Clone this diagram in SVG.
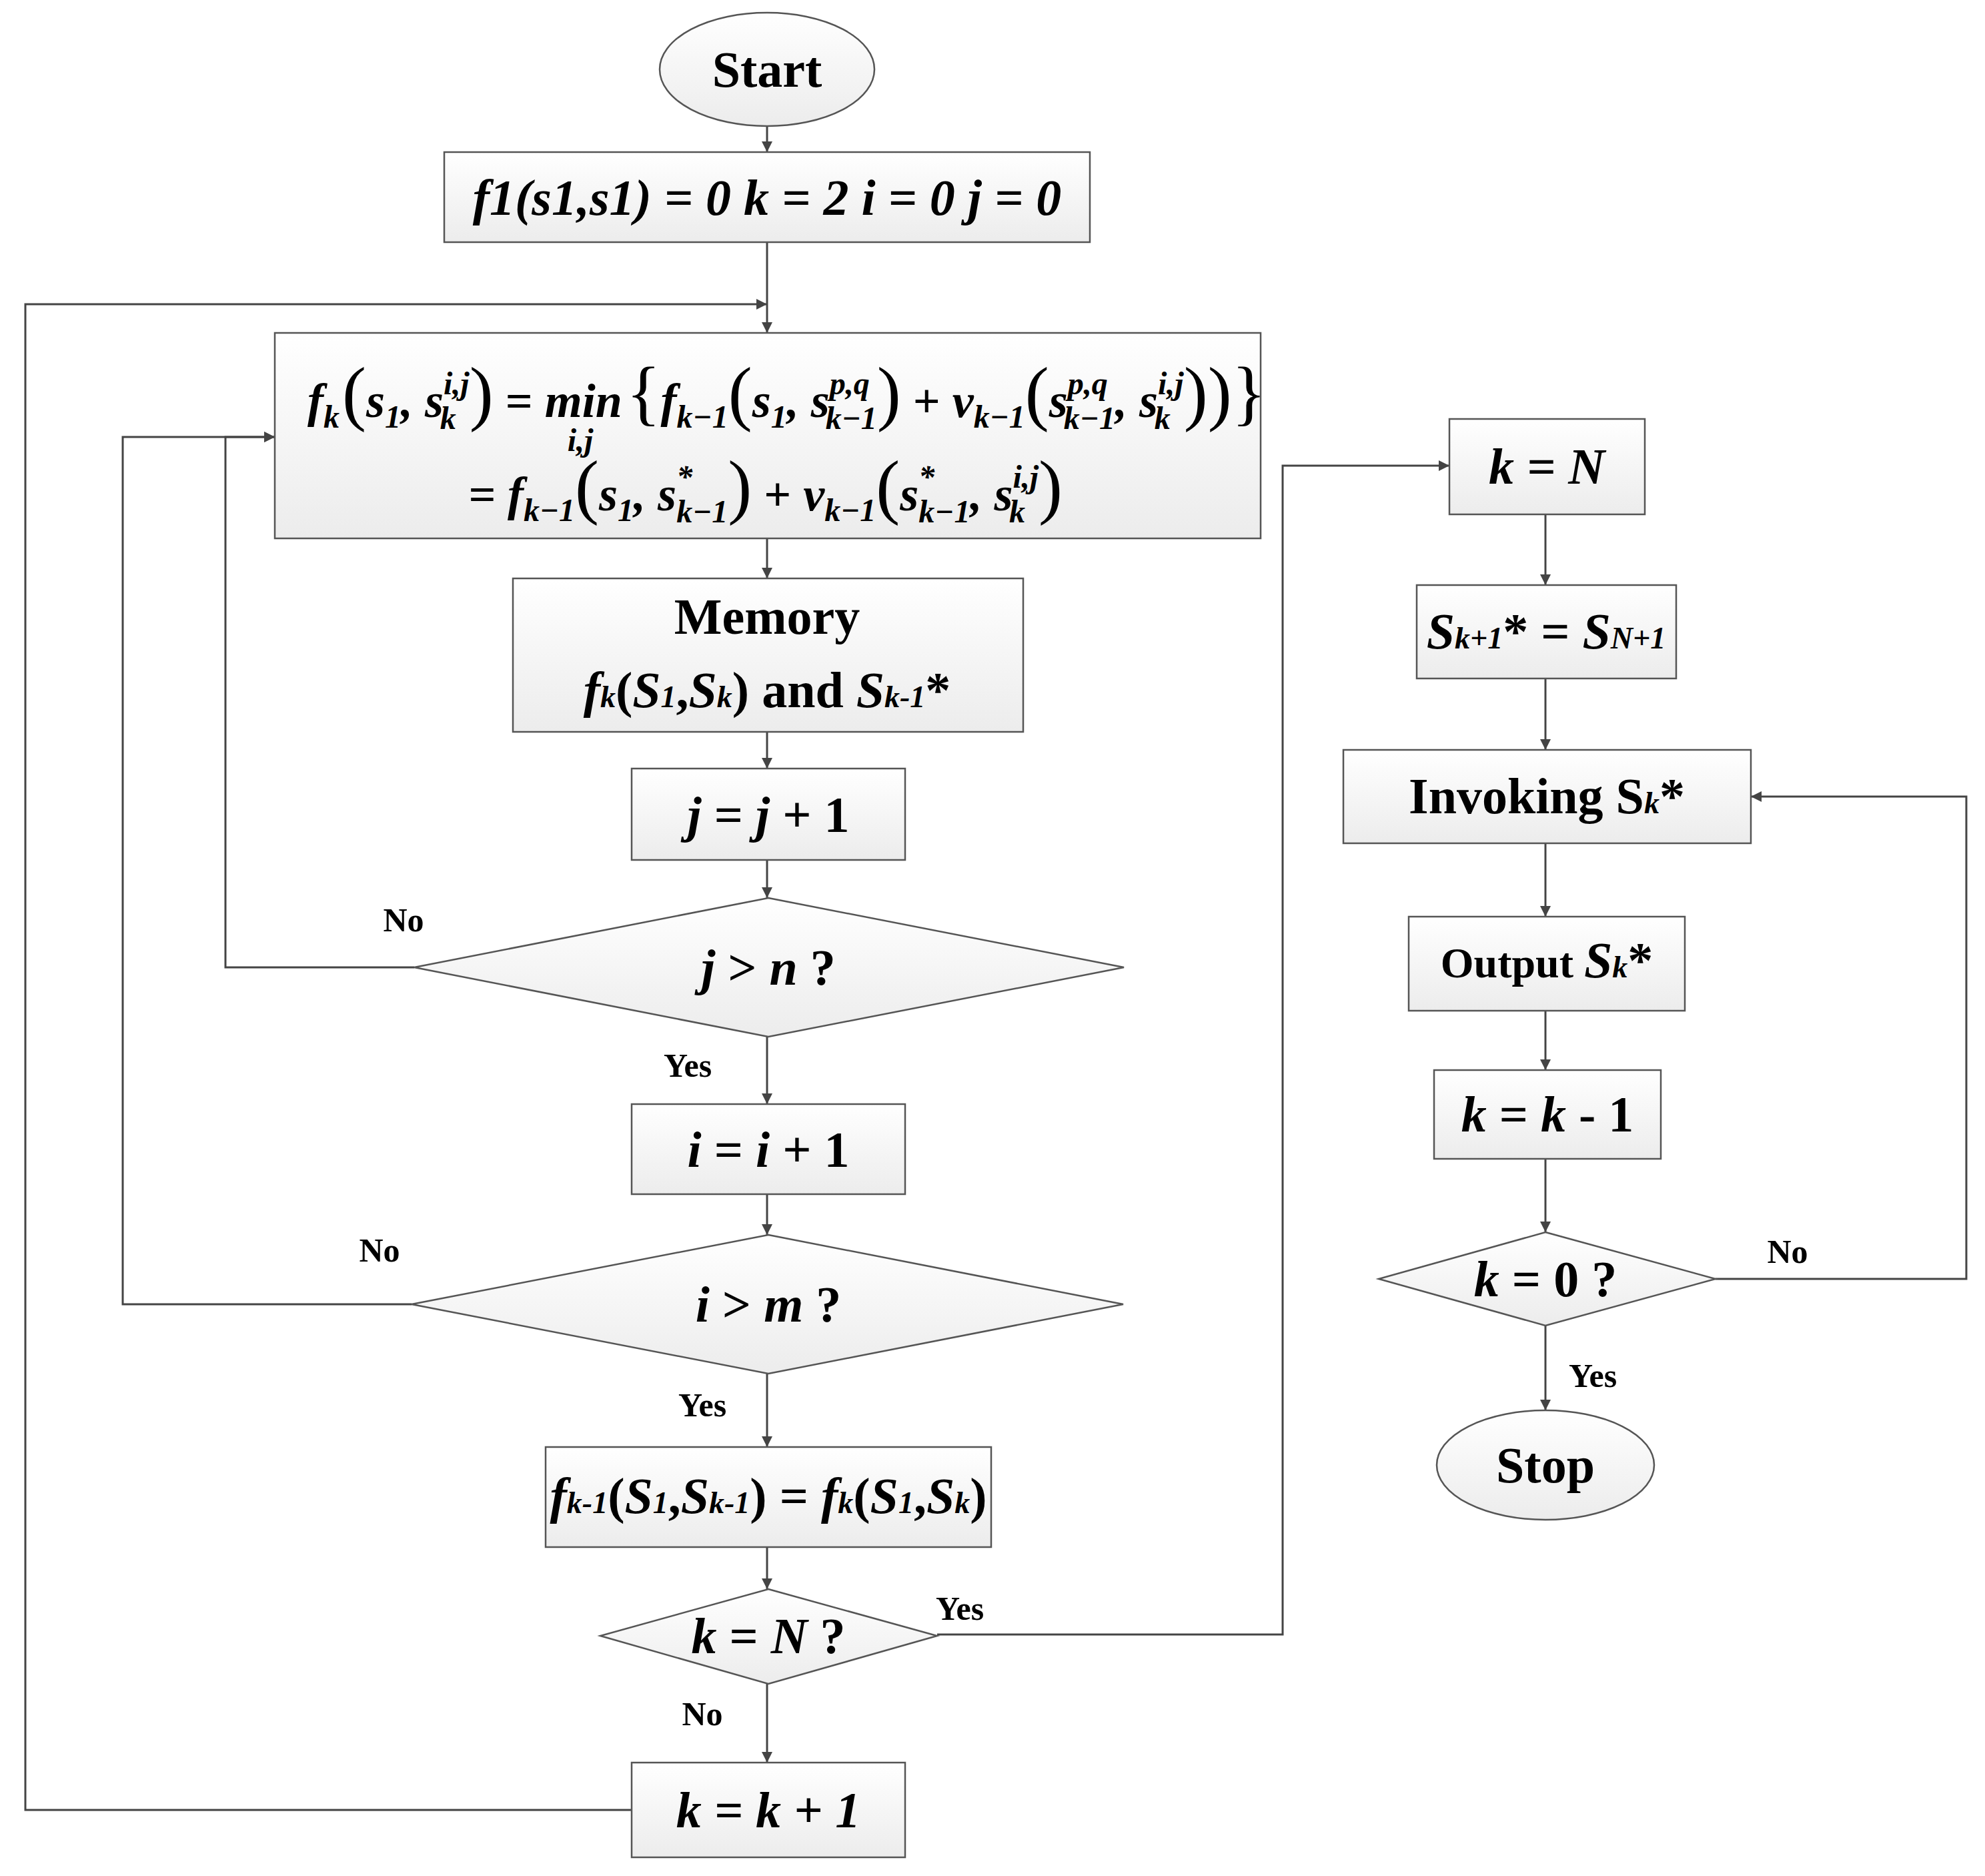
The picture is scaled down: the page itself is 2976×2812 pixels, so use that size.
<svg xmlns="http://www.w3.org/2000/svg" width="2976" height="2812" viewBox="0 0 2976 2812">
<defs>
<linearGradient id="g" x1="0" y1="0" x2="0" y2="1"><stop offset="0" stop-color="#ffffff"/><stop offset="1" stop-color="#ececec"/></linearGradient>
<marker id="a" viewBox="0 0 10 10" refX="10" refY="5" markerWidth="20" markerHeight="16" markerUnits="userSpaceOnUse" orient="auto"><path d="M0,0 L10,5 L0,10 z" fill="#444"/></marker>
<style>
.n{fill:url(#g);stroke:#555;stroke-width:2.5}
.c{fill:none;stroke:#444;stroke-width:3;marker-end:url(#a)}
text{font-family:"Liberation Serif","Times New Roman",serif;font-weight:bold;fill:#000}
.t{font-size:76px;text-anchor:middle}
.i{font-style:italic}
.s{font-size:46px;font-style:italic}
.yn{font-size:50px}
.fm{font-size:72px;font-style:italic}
.fs{font-size:48px;font-style:italic}
.bp{font-size:108px;font-weight:normal;font-style:normal}
</style>
</defs>
<g id="connectors">
<path class="c" d="M1150,189 V228"/>
<path class="c" d="M1150,363 V499"/>
<path class="c" d="M947,2713 H38 V456 H1150"/>
<path class="c" d="M1150,807 V867"/>
<path class="c" d="M1150,1097 V1152"/>
<path class="c" d="M1150,1289 V1346"/>
<path class="c" d="M621,1450 H338 V655 H412"/>
<path class="c" d="M1150,1554 V1655"/>
<path class="c" d="M1150,1790 V1851"/>
<path class="c" d="M617,1955 H184 V655 H412"/>
<path class="c" d="M1150,2059 V2169"/>
<path class="c" d="M1150,2319 V2382"/>
<path class="c" d="M1150,2524 V2642"/>
<path class="c" d="M1405,2450 H1923 V698 H2173"/>
<path class="c" d="M2317,771 V877"/>
<path class="c" d="M2317,1017 V1124"/>
<path class="c" d="M2317,1264 V1374"/>
<path class="c" d="M2317,1515 V1604"/>
<path class="c" d="M2317,1737 V1847"/>
<path class="c" d="M2572,1917 H2948 V1194 H2625"/>
<path class="c" d="M2317,1987 V2114"/>
<text class="yn" x="605" y="1396" text-anchor="middle">No</text>
<text class="yn" x="1031" y="1614" text-anchor="middle">Yes</text>
<text class="yn" x="569" y="1891" text-anchor="middle">No</text>
<text class="yn" x="1053" y="2123" text-anchor="middle">Yes</text>
<text class="yn" x="1439" y="2428" text-anchor="middle">Yes</text>
<text class="yn" x="1053" y="2586" text-anchor="middle">No</text>
<text class="yn" x="2680" y="1893" text-anchor="middle">No</text>
<text class="yn" x="2388" y="2079" text-anchor="middle">Yes</text>
</g>
<g id="start"><ellipse class="n" cx="1150" cy="104" rx="161" ry="85"/><text class="t" x="1150" y="130">Start</text></g>
<g id="init"><rect class="n" x="666" y="228" width="968" height="135"/><text class="t i" x="1150" y="322">f1(s1,s1) = 0 k = 2 i = 0  j = 0</text></g>
<g id="formula"><rect class="n" x="412" y="499" width="1478" height="308"/>
<text class="fm" x="461" y="625">f<tspan class="fs" dy="16">k</tspan><tspan class="bp" dy="-16" dx="4">(</tspan>s<tspan class="fs" dy="16" font-style="normal">1</tspan><tspan dy="-16">, s</tspan><tspan class="fs" dy="-34">i,j</tspan><tspan class="fs" dx="-44" dy="52">k</tspan><tspan class="bp" dy="-18" dx="20">)</tspan><tspan font-style="normal"> = </tspan>min<tspan class="bp" dx="6">{</tspan>f<tspan class="fs" dy="16">k−1</tspan><tspan class="bp" dy="-16">(</tspan>s<tspan class="fs" dy="16" font-style="normal">1</tspan><tspan dy="-16">, s</tspan><tspan class="fs" dy="-34">p,q</tspan><tspan class="fs" dx="-66" dy="52">k−1</tspan><tspan class="bp" dy="-18">)</tspan><tspan font-style="normal"> + </tspan>v<tspan class="fs" dy="16">k−1</tspan><tspan class="bp" dy="-16">(</tspan>s<tspan class="fs" dy="-34">p,q</tspan><tspan class="fs" dx="-66" dy="52">k−1</tspan><tspan dy="-18">, s</tspan><tspan class="fs" dy="-34">i,j</tspan><tspan class="fs" dx="-44" dy="52">k</tspan><tspan class="bp" dy="-18" dx="20">)</tspan><tspan class="bp">)}</tspan></text>
<text class="fs" x="870" y="676" text-anchor="middle">i,j</text>
<text class="fm" x="702" y="765">= f<tspan class="fs" dy="16">k−1</tspan><tspan class="bp" dy="-16">(</tspan>s<tspan class="fs" dy="16" font-style="normal">1</tspan><tspan dy="-16">, s</tspan><tspan class="fs" dy="-34">*</tspan><tspan class="fs" dx="-24" dy="52">k−1</tspan><tspan class="bp" dy="-18">)</tspan><tspan font-style="normal"> + </tspan>v<tspan class="fs" dy="16">k−1</tspan><tspan class="bp" dy="-16">(</tspan>s<tspan class="fs" dy="-34">*</tspan><tspan class="fs" dx="-24" dy="52">k−1</tspan><tspan dy="-18">, s</tspan><tspan class="fs" dy="-34">i,j</tspan><tspan class="fs" dx="-44" dy="52">k</tspan><tspan class="bp" dy="-18" dx="20">)</tspan></text>
</g>
<g id="memory"><rect class="n" x="769" y="867" width="765" height="230"/><text class="t" x="1150" y="950">Memory</text>
<text class="t" x="1150" y="1060"><tspan class="i">f</tspan><tspan class="s">k</tspan>(<tspan class="i">S</tspan><tspan class="s">1</tspan>,<tspan class="i">S</tspan><tspan class="s">k</tspan>) and <tspan class="i">S</tspan><tspan class="s">k-1</tspan>*</text></g>
<g id="jinc"><rect class="n" x="947" y="1152" width="410" height="137"/><text class="t" x="1152" y="1247"><tspan class="i">j</tspan> = <tspan class="i">j</tspan> + 1</text></g>
<g id="jcond"><polygon class="n" points="1152,1346 1685,1450 1152,1554 621,1450"/><text class="t" x="1152" y="1476"><tspan class="i">j</tspan> &gt; <tspan class="i">n</tspan> ?</text></g>
<g id="iinc"><rect class="n" x="947" y="1655" width="410" height="135"/><text class="t" x="1152" y="1749"><tspan class="i">i</tspan> = <tspan class="i">i</tspan> + 1</text></g>
<g id="icond"><polygon class="n" points="1152,1851 1684,1955 1152,2059 617,1955"/><text class="t" x="1152" y="1981"><tspan class="i">i</tspan> &gt; <tspan class="i">m</tspan> ?</text></g>
<g id="fupd"><rect class="n" x="818" y="2169" width="668" height="150"/><text class="t" x="1152" y="2268"><tspan class="i">f</tspan><tspan class="s">k-1</tspan>(<tspan class="i">S</tspan><tspan class="s">1</tspan>,<tspan class="i">S</tspan><tspan class="s">k-1</tspan>) = <tspan class="i">f</tspan><tspan class="s">k</tspan>(<tspan class="i">S</tspan><tspan class="s">1</tspan>,<tspan class="i">S</tspan><tspan class="s">k</tspan>)</text></g>
<g id="kcond"><polygon class="n" points="1152,2382 1405,2452 1152,2524 900,2452"/><text class="t" x="1152" y="2478"><tspan class="i">k</tspan> = <tspan class="i">N</tspan> ?</text></g>
<g id="kinc"><rect class="n" x="947" y="2642" width="410" height="142"/><text class="t i" x="1152" y="2739">k = k + 1</text></g>
<g id="keqN"><rect class="n" x="2173" y="628" width="293" height="143"/><text class="t i" x="2319" y="725">k = N</text></g>
<g id="sinit"><rect class="n" x="2124" y="877" width="389" height="140"/><text class="t" x="2318" y="972"><tspan class="i">S</tspan><tspan class="s">k+1</tspan>* = <tspan class="i">S</tspan><tspan class="s">N+1</tspan></text></g>
<g id="invoke"><rect class="n" x="2014" y="1124" width="611" height="140"/><text class="t" x="2319" y="1219">Invoking S<tspan class="s">k</tspan>*</text></g>
<g id="output"><rect class="n" x="2112" y="1374" width="414" height="141"/><text class="t" x="2319" y="1465"><tspan font-size="64">Output </tspan><tspan class="i">S</tspan><tspan class="s">k</tspan>*</text></g>
<g id="kdec"><rect class="n" x="2150" y="1604" width="340" height="133"/><text class="t" x="2320" y="1696"><tspan class="i">k</tspan> = <tspan class="i">k</tspan> - 1</text></g>
<g id="k0"><polygon class="n" points="2317,1847 2572,1917 2317,1987 2067,1917"/><text class="t" x="2317" y="1943"><tspan class="i">k</tspan> = 0 ?</text></g>
<g id="stop"><ellipse class="n" cx="2317" cy="2196" rx="163" ry="82"/><text class="t" x="2317" y="2222">Stop</text></g>
</svg>
